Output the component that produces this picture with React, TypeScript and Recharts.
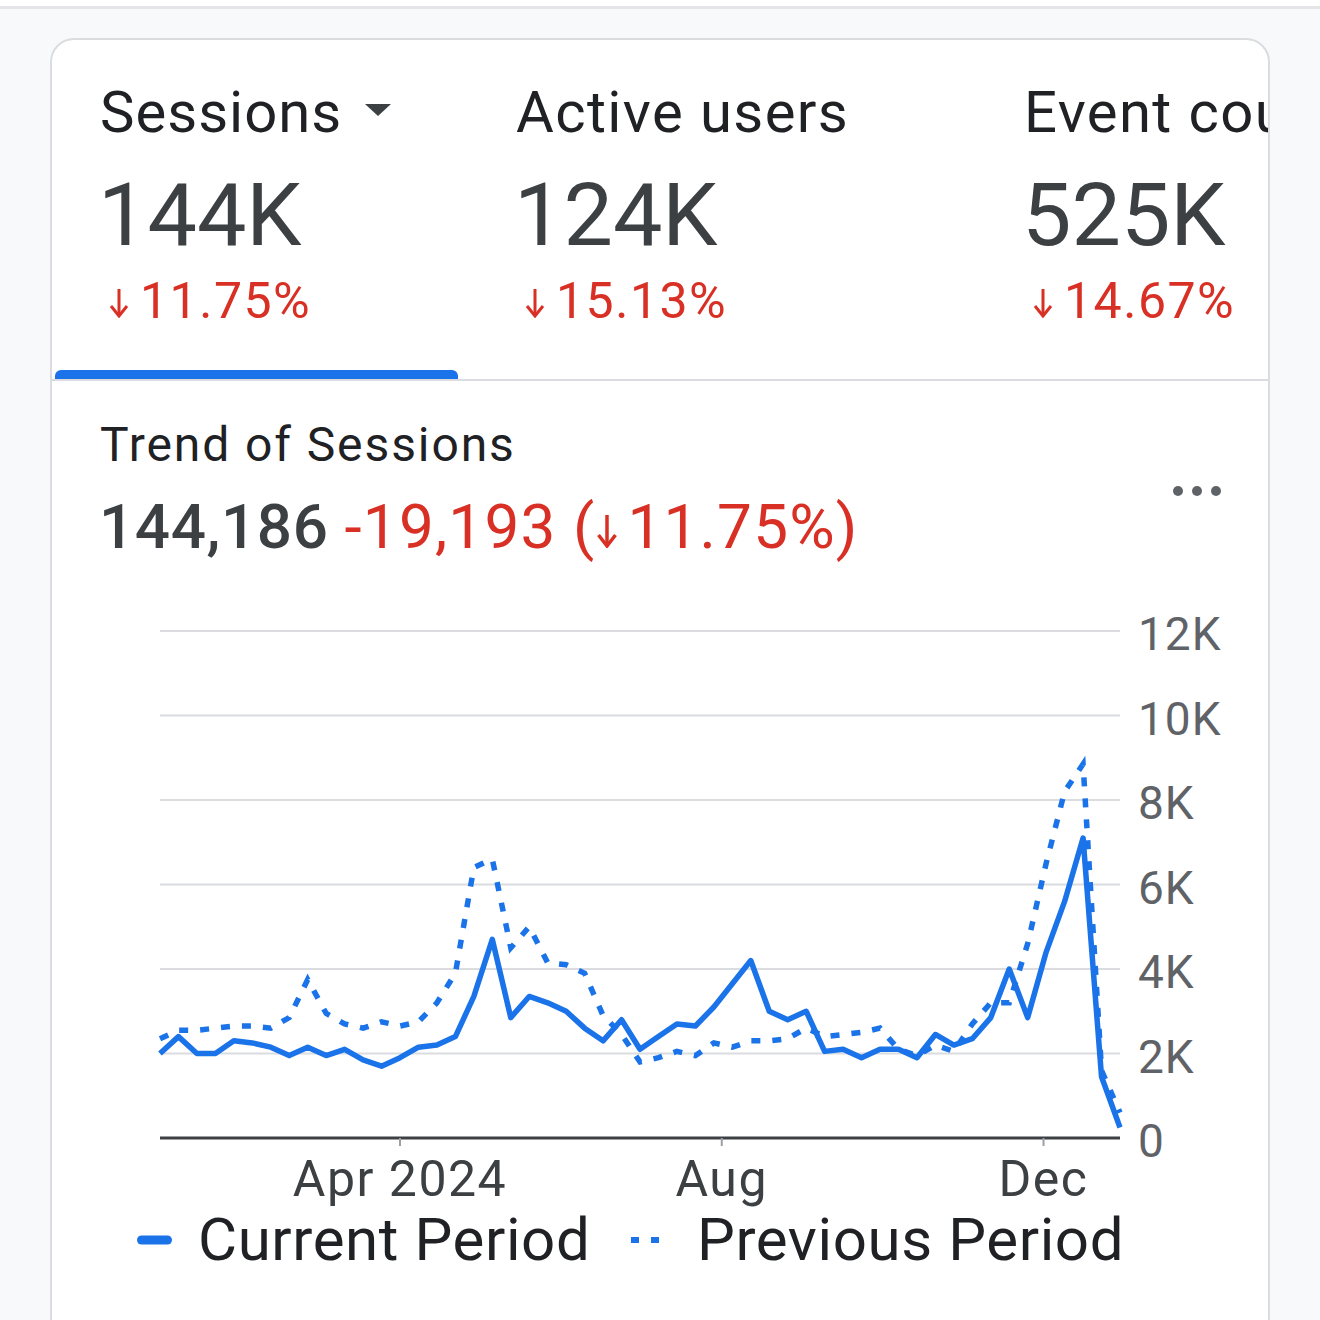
import React from 'react';
import { LineChart, Line, XAxis, YAxis, CartesianGrid, Legend } from 'recharts';

// ---- Data ----
const weekDays: number[] = Array.from({ length: 53 }, (_, i) => i * 7); // day offset from Jan 1 2024 (weekly)
const currentPeriod: number[] = [
  2000, 2400, 2000, 2000, 2300, 2250, 2150, 1950, 2150, 1950,
  2100, 1850, 1700, 1900, 2150, 2200, 2400, 3350, 4700, 2850,
  3350, 3200, 3000, 2600, 2300, 2800, 2100, 2400, 2700, 2650,
  3100, 3650, 4200, 3000, 2800, 3000, 2050, 2100, 1900, 2100,
  2100, 1900, 2450, 2200, 2350, 2850, 4000, 2850, 4400, 5600,
  7100, 1450, 250,
];
const previousPeriod: number[] = [
  2350, 2550, 2550, 2600, 2650, 2650, 2600, 2850, 3750, 2950,
  2700, 2600, 2750, 2650, 2750, 3200, 3900, 6400, 6600, 4500,
  5000, 4150, 4100, 3900, 2900, 2450, 1800, 1900, 2050, 1950,
  2250, 2150, 2300, 2300, 2350, 2600, 2400, 2450, 2500, 2600,
  2100, 1950, 2200, 2050, 2700, 3200, 3200, 4600, 6500, 8200,
  8850, 1600, 600,
];
const xTickDays: number[] = [91, 213, 335];
const xTickLabels: string[] = ['Apr 2024', 'Aug', 'Dec'];
const yTicks: number[] = [0, 2000, 4000, 6000, 8000, 10000, 12000];
const seriesNames: string[] = ['Current Period', 'Previous Period'];

const chartData = weekDays.map((d, i) => ({
  day: d,
  current: currentPeriod[i],
  previous: previousPeriod[i],
}));

const BLUE = '#1a73e8';
const RED = '#d93025';
const FONT = 'Roboto, "Noto Sans", sans-serif';

const CX = 52;
const CY = 40;

const T = (p: {
  x: number;
  base: number;
  fs: number;
  color?: string;
  weight?: number;
  ls?: number;
  children: React.ReactNode;
}) => (
  <div
    style={{
      position: 'absolute',
      left: p.x - CX,
      top: p.base - 0.842 * p.fs - CY,
      fontSize: p.fs,
      lineHeight: 1,
      color: p.color || '#202124',
      fontWeight: p.weight || 400,
      letterSpacing: p.ls || 0,
      whiteSpace: 'nowrap',
      fontFamily: FONT,
    }}
  >
    {p.children}
  </div>
);

const Arrow = ({ w, h, sw, mr }: { w: number; h: number; sw: number; mr: number }) => (
  <svg width={w} height={h} style={{ marginRight: mr, verticalAlign: 'baseline' }}>
    <line x1={w / 2} y1={1} x2={w / 2} y2={h - 2} stroke={RED} strokeWidth={sw} />
    <polyline
      points={`${sw},${h - w / 2 - 1} ${w / 2},${h - 2} ${w - sw},${h - w / 2 - 1}`}
      fill="none"
      stroke={RED}
      strokeWidth={sw}
      strokeLinejoin="miter"
    />
  </svg>
);

const renderLegend = (props: any) => {
  const payload = props.payload || [];
  const lefts = [0, 495];
  return (
    <div style={{ position: 'relative', width: 1100, height: 60 }}>
      {payload.map((entry: any, i: number) => (
        <div
          key={entry.value}
          style={{ position: 'absolute', left: lefts[i], top: 0, height: 60, display: 'flex', alignItems: 'center' }}
        >
          <svg width={40} height={14}>
            {i === 0 ? (
              <line x1={6.5} y1={7} x2={32.5} y2={7} stroke={entry.color} strokeWidth={9} strokeLinecap="round" />
            ) : (
              <line x1={1} y1={7} x2={29} y2={7} stroke={entry.color} strokeWidth={6} strokeDasharray="8 12" />
            )}
          </svg>
          <span
            style={{
              marginLeft: i === 0 ? 23 : 27,
              fontSize: 60,
              lineHeight: 1,
              letterSpacing: 0.6,
              color: '#202124',
              fontFamily: FONT,
              whiteSpace: 'nowrap',
            }}
          >
            {entry.value}
          </span>
        </div>
      ))}
    </div>
  );
};

export default function App() {
  return (
    <div
      style={{
        position: 'absolute',
        left: 0,
        top: 0,
        width: 1320,
        height: 1320,
        overflow: 'hidden',
        background: '#f8f9fa',
        fontFamily: FONT,
      }}
    >
      <div
        style={{
          position: 'absolute',
          left: 0,
          top: 0,
          width: 1320,
          height: 6,
          background: '#fff',
          borderBottom: '3px solid #e3e5e8',
        }}
      />
      <div
        style={{
          position: 'absolute',
          left: 50,
          top: 38,
          width: 1220,
          height: 1320,
          boxSizing: 'border-box',
          border: '2px solid #dadce0',
          borderRadius: 24,
          background: '#fff',
          overflow: 'hidden',
        }}
      >
        <T x={100} base={132} fs={58} ls={1}>Sessions</T>
        <div
          style={{
            position: 'absolute',
            left: 365 - CX,
            top: 104 - CY,
            width: 0,
            height: 0,
            borderLeft: '13px solid transparent',
            borderRight: '13px solid transparent',
            borderTop: '12px solid #3c4043',
          }}
        />
        <T x={516} base={132} fs={58} ls={1.4}>Active users</T>
        <T x={1024} base={132} fs={58} ls={1.4}>Event count</T>

        <T x={98} base={245} fs={88} color="#3c4043">144K</T>
        <T x={514} base={245} fs={88} color="#3c4043">124K</T>
        <T x={1022} base={245} fs={88} color="#3c4043">525K</T>

        <T x={108} base={318} fs={50} color={RED} ls={1.5}>
          <Arrow w={22} h={30} sw={3} mr={10} />11.75%
        </T>
        <T x={524} base={318} fs={50} color={RED} ls={1.5}>
          <Arrow w={22} h={30} sw={3} mr={10} />15.13%
        </T>
        <T x={1032} base={318} fs={50} color={RED} ls={1.5}>
          <Arrow w={22} h={30} sw={3} mr={10} />14.67%
        </T>

        <div
          style={{
            position: 'absolute',
            left: 55 - CX,
            top: 370 - CY,
            width: 403,
            height: 9,
            background: BLUE,
            borderRadius: '6px 6px 0 0',
          }}
        />
        <div
          style={{
            position: 'absolute',
            left: 0,
            top: 379 - CY,
            width: 1220,
            height: 2,
            background: '#dadce0',
          }}
        />

        <T x={100} base={461} fs={48} ls={1.9}>Trend of Sessions</T>
        <T x={99} base={548} fs={62} color="#3c4043" weight={500} ls={0.6}>
          144,186{' '}
          <span style={{ color: RED, fontWeight: 400, letterSpacing: 1.2 }}>
            -19,193 (<Arrow w={24} h={34} sw={3.5} mr={8} />11.75%)
          </span>
        </T>

        {[0, 1, 2].map((i) => (
          <div
            key={i}
            style={{
              position: 'absolute',
              left: 1173 + i * 19 - CX,
              top: 486 - CY,
              width: 10,
              height: 10,
              borderRadius: 5,
              background: '#5f6368',
            }}
          />
        ))}
      </div>

      <div style={{ position: 'absolute', left: 0, top: 600 }}>
        <LineChart
          width={1320}
          height={720}
          data={chartData}
          margin={{ top: 31, right: 100, bottom: 52, left: 160 }}
        >
          <CartesianGrid vertical={false} stroke="#dadce0" strokeWidth={2} />
          <XAxis
            dataKey="day"
            type="number"
            domain={[0, 364]}
            ticks={xTickDays}
            tickFormatter={(v: number) => xTickLabels[xTickDays.indexOf(v)]}
            height={70}
            axisLine={{ stroke: '#3c4043', strokeWidth: 3 }}
            tickLine={{ stroke: '#9aa0a6', strokeWidth: 2 }}
            tickSize={8}
            tickMargin={14}
            tick={{ fontSize: 50, fill: '#3c4043', fontFamily: FONT, letterSpacing: 1.5 }}
            interval={0}
          />
          <YAxis
            orientation="right"
            width={100}
            domain={[0, 12000]}
            ticks={yTicks}
            tickFormatter={(v: number) => (v === 0 ? '0' : `${v / 1000}K`)}
            axisLine={false}
            tickLine={false}
            tickMargin={12}
            tick={{ fontSize: 46, fill: '#5f6368', fontFamily: FONT, dy: 3, letterSpacing: 1 }}
            interval={0}
          />
          <Legend
            verticalAlign="bottom"
            height={60}
            content={renderLegend}
            wrapperStyle={{ position: 'absolute', left: 135, top: 610, width: 1100, height: 60 }}
          />
          <Line
            type="linear"
            dataKey="previous"
            name={seriesNames[1]}
            stroke={BLUE}
            strokeWidth={5.5}
            strokeDasharray="9 12"
            dot={false}
            activeDot={false}
            isAnimationActive={false}
            legendType="line"
          />
          <Line
            type="linear"
            dataKey="current"
            name={seriesNames[0]}
            stroke={BLUE}
            strokeWidth={5.5}
            strokeLinejoin="round"
            dot={false}
            activeDot={false}
            isAnimationActive={false}
            legendType="line"
          />
        </LineChart>
      </div>
    </div>
  );
}
